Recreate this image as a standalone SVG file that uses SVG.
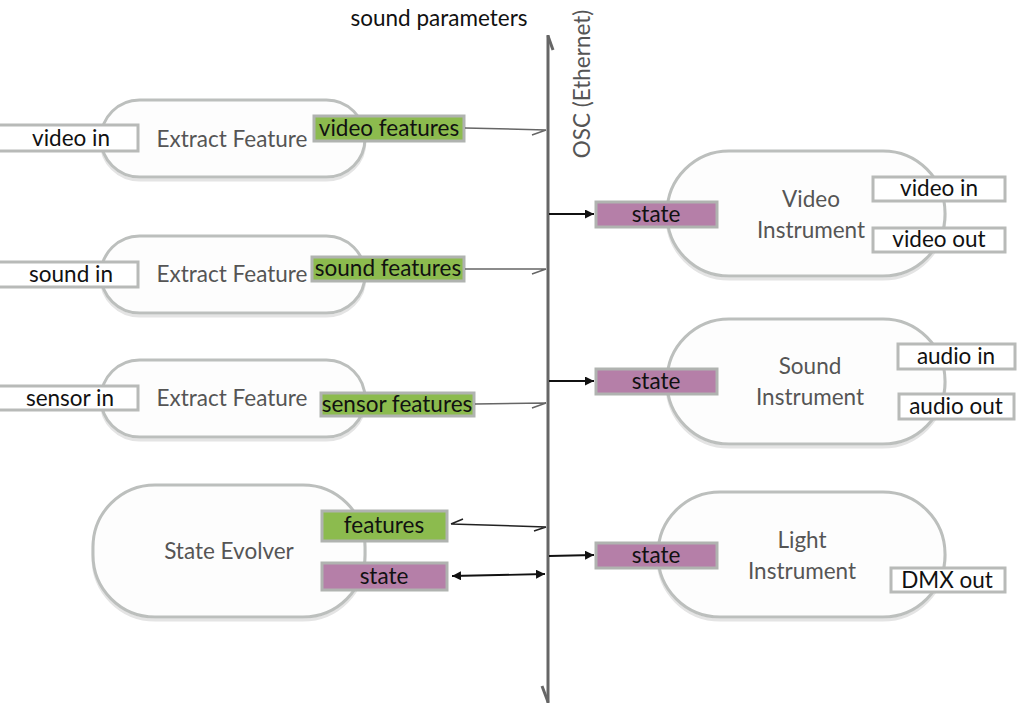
<svg xmlns="http://www.w3.org/2000/svg" width="1024" height="718" viewBox="0 0 1024 718">
<style>
.pill{fill:#fdfdfd;stroke:#bcbfbd;stroke-width:3}
.sh{fill:none;stroke:#e4e4e4;stroke-width:3}
.port{fill:#fff;stroke:#b8bab8;stroke-width:3}
.g{fill:#8cbb4e;stroke:#b0b3b0;stroke-width:3}
.p{fill:#b57fa8;stroke:#b0b3b0;stroke-width:3}
.t{font-family:Lato,"Noto Sans",sans-serif;font-size:22.5px;fill:#111;text-anchor:middle}
.n{font-family:Lato,"Noto Sans",sans-serif;font-size:22.5px;fill:#555;text-anchor:middle}
.thin{fill:none;stroke:#666;stroke-width:1.5}
.thinb{fill:none;stroke:#222;stroke-width:1.5}
.blk{fill:none;stroke:#111;stroke-width:1.8}
</style>
<defs>
<marker id="ah" viewBox="0 0 10 10" refX="10" refY="5" markerWidth="9" markerHeight="9" markerUnits="userSpaceOnUse" orient="auto-start-reverse">
<path d="M0,0 L10,5 L0,10 z" fill="#111"/>
</marker>
</defs>
<rect width="1024" height="718" fill="#fff"/>

<text x="439" y="26" class="t">sound parameters</text>
<text transform="translate(590,84) rotate(-90)" class="n">OSC (Ethernet)</text>

<g id="bus">
<path d="M548,35 L548,703" fill="none" stroke="#666" stroke-width="3"/>
<path d="M548,36 L553,50" fill="none" stroke="#666" stroke-width="3"/>
<path d="M548,702 L542,686" fill="none" stroke="#666" stroke-width="3"/>
</g>

<g id="extract-video">
<rect x="101" y="103" width="264" height="77" rx="38.5" class="sh"/>
<rect x="101" y="100" width="264" height="77" rx="38.5" class="pill"/>
<rect x="-2" y="125" width="140" height="26" class="port"/>
<text x="71" y="146" class="t">video in</text>
<text x="232" y="147" class="n">Extract Feature</text>
<rect x="314" y="116" width="150" height="25" class="g"/>
<text x="389" y="136" class="t">video features</text>
</g>

<g id="extract-sound">
<rect x="101" y="239" width="264" height="77" rx="38.5" class="sh"/>
<rect x="101" y="236" width="264" height="77" rx="38.5" class="pill"/>
<rect x="-2" y="262" width="140" height="25" class="port"/>
<text x="71" y="282" class="t">sound in</text>
<text x="232" y="282" class="n">Extract Feature</text>
<rect x="312" y="257" width="152" height="24" class="g"/>
<text x="388" y="276" class="t">sound features</text>
</g>

<g id="extract-sensor">
<rect x="101" y="363" width="264" height="77" rx="38.5" class="sh"/>
<rect x="101" y="360" width="264" height="77" rx="38.5" class="pill"/>
<rect x="-2" y="386" width="140" height="24" class="port"/>
<text x="70" y="406" class="t">sensor in</text>
<text x="232" y="406" class="n">Extract Feature</text>
<rect x="321" y="393" width="153" height="23" class="g"/>
<text x="397" y="412" class="t">sensor features</text>
</g>

<g id="state-evolver">
<rect x="93" y="488" width="272" height="132" rx="62" class="sh"/>
<rect x="93" y="485" width="272" height="132" rx="62" class="pill"/>
<text x="229" y="559" class="n">State Evolver</text>
<rect x="322" y="511" width="125" height="30" class="g"/>
<text x="384" y="533" class="t">features</text>
<rect x="322" y="563" width="125" height="27" class="p"/>
<text x="384" y="584" class="t">state</text>
</g>

<g id="video-instrument">
<rect x="667" y="154" width="278" height="125" rx="62" class="sh"/>
<rect x="667" y="151" width="278" height="125" rx="62" class="pill"/>
<text x="811" y="207" class="n">Video</text>
<text x="811" y="238" class="n">Instrument</text>
<rect x="596" y="202" width="121" height="25" class="p"/>
<text x="656" y="222" class="t">state</text>
<rect x="873" y="177" width="132" height="24" class="port"/>
<text x="939" y="196" class="t">video in</text>
<rect x="873" y="228" width="132" height="24" class="port"/>
<text x="939" y="247" class="t">video out</text>
</g>

<g id="sound-instrument">
<rect x="667" y="322" width="278" height="125" rx="62" class="sh"/>
<rect x="667" y="319" width="278" height="125" rx="62" class="pill"/>
<text x="810" y="374" class="n">Sound</text>
<text x="810" y="405" class="n">Instrument</text>
<rect x="596" y="369" width="121" height="25" class="p"/>
<text x="656" y="389" class="t">state</text>
<rect x="898" y="344" width="117" height="25" class="port"/>
<text x="956" y="364" class="t">audio in</text>
<rect x="899" y="394" width="115" height="25" class="port"/>
<text x="956" y="414" class="t">audio out</text>
</g>

<g id="light-instrument">
<rect x="658" y="495" width="287" height="125" rx="62" class="sh"/>
<rect x="658" y="492" width="287" height="125" rx="62" class="pill"/>
<text x="802" y="548" class="n">Light</text>
<text x="802" y="579" class="n">Instrument</text>
<rect x="596" y="543" width="121" height="25" class="p"/>
<text x="656" y="563" class="t">state</text>
<rect x="891" y="568" width="114" height="24" class="port"/>
<text x="947" y="588" class="t">DMX out</text>
</g>

<g id="connectors">
<path d="M465,128 L546,130 M546,130 L532,135" class="thin"/>
<path d="M465,269 L546,269 M546,269 L532,274" class="thin"/>
<path d="M475,404 L546,403 M546,403 L532,408" class="thin"/>
<path d="M451,524 L546,527 M451,524 L463,519 M546,527 L534,531" class="thinb"/>
<path d="M452,576 L545,574" class="blk" marker-start="url(#ah)" marker-end="url(#ah)"/>
<path d="M549,214 L594,214" class="blk" marker-end="url(#ah)"/>
<path d="M549,381 L594,381" class="blk" marker-end="url(#ah)"/>
<path d="M549,556 L594,555" class="blk" marker-end="url(#ah)"/>
</g>
</svg>
